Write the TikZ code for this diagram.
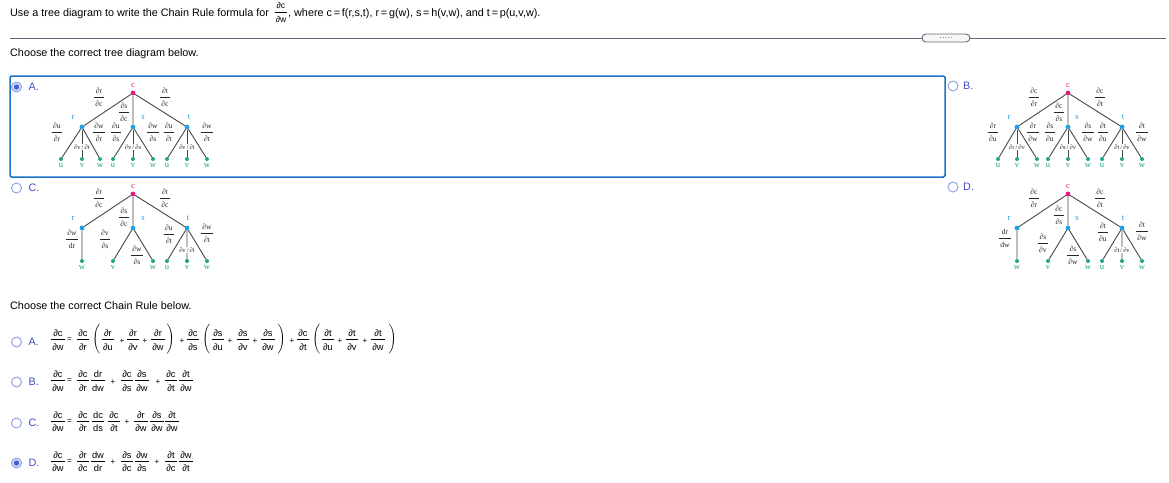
\documentclass[tikz,border=0pt]{standalone}
\usepackage{fontspec}
\setmainfont{Liberation Sans}
\newfontfamily\serf{Liberation Serif}
\definecolor{cmag}{HTML}{E5177F}
\definecolor{cblue}{HTML}{1E9FE6}
\definecolor{cleaf}{HTML}{1FA38A}
\definecolor{boxblue}{HTML}{1A72C9}
\definecolor{radiocol}{HTML}{8D9DE2}
\definecolor{selblue}{HTML}{4A5ECF}
\definecolor{optblue}{HTML}{3D4FC2}
\definecolor{rulegray}{HTML}{5F6B78}
\definecolor{edgegray}{HTML}{474747}
% tree edge fraction
\newcommand\ef[2]{$\vcenter{\offinterlineskip\halign{\hskip1.6pt\hfil##\hfil\hskip1.6pt\cr\vrule height5.6pt depth0pt width0pt#1\cr\noalign{\kern3.2pt\hrule height0.6pt\kern3.6pt}\vrule height5.6pt depth0pt width0pt#2\cr}}$}
% formula fraction
\newcommand\mf[2]{$\vcenter{\offinterlineskip\halign{\hskip1.5pt\hfil##\hfil\hskip1.5pt\cr\vrule height6.9pt depth0pt width0pt#1\cr\noalign{\kern2.2pt\hrule height0.6pt\kern3.6pt}\vrule height6.9pt depth0pt width0pt#2\cr}}$}
% header fraction
\newcommand\hf[2]{$\vcenter{\offinterlineskip\halign{\hskip1pt\hfil##\hfil\hskip1pt\cr\vrule height6.5pt depth0pt width0pt#1\cr\noalign{\kern3pt\hrule height0.6pt\kern3.6pt}\vrule height6.5pt depth0pt width0pt#2\cr}}$}
\newcommand\lpar{$\left(\vrule height14pt depth14pt width0pt\right.$}
\newcommand\rpar{$\left.\vrule height14pt depth14pt width0pt\right)$}
\tikzset{
  txt/.style={font=\fontsize{10.8}{13}\selectfont, inner sep=0pt, anchor=west},
  opt/.style={font=\fontsize{10.8}{13}\selectfont, text=optblue, inner sep=0pt, anchor=west},
  mfr/.style={font=\fontsize{9.3}{11}\selectfont, inner sep=0pt},
  sym/.style={font=\fontsize{8}{9}\selectfont, inner sep=0pt},
  par/.style={font=\fontsize{9}{10}\selectfont, inner sep=0pt},
  efr/.style={font=\serf\fontsize{7.6}{8}\selectfont, inner sep=0pt, text=black!85},
  inl/.style={font=\serf\fontsize{6.5}{7}\selectfont, inner sep=0.6pt, fill=white, text=black!85},
  edge/.style={draw=edgegray, line width=0.9pt},
  cdot/.style={circle, fill=cmag, inner sep=0pt, minimum size=4.8pt},
  mdot/.style={circle, fill=cblue, inner sep=0pt, minimum size=4.8pt},
  ldot/.style={circle, fill=cleaf, inner sep=0pt, minimum size=4pt},
  clab/.style={font=\serf\fontsize{8.6}{9}\selectfont, text=cmag, inner sep=0pt},
  mlab/.style={font=\serf\fontsize{8.6}{9}\selectfont, text=cblue, inner sep=0pt},
  llab/.style={font=\serf\fontsize{8.6}{9}\selectfont, text=cleaf, inner sep=0pt},
  radio/.style={circle, draw=radiocol, line width=0.9pt, minimum size=10pt, inner sep=0pt, fill=white},
  radiosel/.style={circle, draw=radiocol, line width=0.9pt, minimum size=10pt, inner sep=0pt, fill=radiocol!35},
  radiodot/.style={circle, fill=selblue, minimum size=5.4pt, inner sep=0pt},
}
\begin{document}
\begin{tikzpicture}[x=1pt,y=-1pt]
\useasboundingbox[fill=white] (0,0) rectangle (1169,482);
% header
\node[txt] (h1) at (10,14) {Use a tree diagram to write the Chain Rule formula for};
\node[inner sep=0pt, font=\fontsize{8.6}{9}\selectfont] (hfrac) at (281,12.5) {\hf{∂c}{∂w}};
\node[txt] (h2) at (288,14) {, where c\,=\,f(r,s,t), r\,=\,g(w), s\,=\,h(v,w), and t\,=\,p(u,v,w).};
\node[draw=rulegray, fill=gray!6, line width=0.9pt, rounded corners=4pt, minimum width=48pt, minimum height=8pt, inner sep=0pt, font=\fontsize{6}{6}\selectfont\bfseries, text=rulegray] (pill) at (946,38) {.\,.\,.\,.\,.};
\coordinate (rl) at (10,38);
\coordinate (rr) at (1166,38);
\draw[rulegray, line width=0.9pt] (rl) -- (pill.west) (pill.east) -- (rr);
\node[txt] (q1) at (10,54) {Choose the correct tree diagram below.};
\node[txt] (q2) at (10,306) {Choose the correct Chain Rule below.};
% option box A
\draw[boxblue, line width=1.5pt, rounded corners=1.5pt] (10,76) rectangle (945,177);
\node[radiosel] (rA) at (16.5,87) {}; \node[radiodot] (rAd) at (rA) {};
\node[opt] (lA) at (28.5,87) {A.};
\node[radio] (rB) at (953,86) {};
\node[opt] (lB) at (963,86) {B.};
\node[radio] (rC) at (16.5,188) {};
\node[opt] (lC) at (28.5,188) {C.};
\node[radio] (rD) at (953,187) {};
\node[opt] (lD) at (963,187) {D.};

% ---------- Tree A ----------
\node[cdot] (Ac) at (133,93) {};
\node[clab] (Acl) at (133,85.5) {c};
\node[mdot] (Ar) at (82,127) {};
\node[mdot] (As) at (133,127) {};
\node[mdot] (At) at (187,127) {};
\node[mlab] (Arl) at (73,117.5) {r};
\node[mlab] (Asl) at (143,117.5) {s};
\node[mlab] (Atl) at (189,117.5) {t};
\foreach \n/\x/\l in {ru/61/u, rv/82/v, rw/100/w, su/113/u, sv/133/v, sw/153/w, tu/167/u, tv/187/v, tw/207/w}{
  \node[ldot] (A\n) at (\x,159) {};
  \node[llab] (A\n-l) at (\x,166) {\l};}
\draw[edge] (Ac) -- (Ar) (Ac) -- (As) (Ac) -- (At);
\foreach \m in {r,s,t}{\foreach \k in {u,v,w}{\draw[edge] (A\m) -- (A\m\k);}}
\node[efr] (Ae1) at (99,97) {\ef{∂r}{∂c}};
\node[efr] (Ae2) at (124,112) {\ef{∂s}{∂c}};
\node[efr] (Ae3) at (165,97) {\ef{∂t}{∂c}};
\node[efr] (Ae4) at (57,132) {\ef{∂u}{∂r}};
\node[efr] (Ae5) at (99,132) {\ef{∂w}{∂r}};
\node[efr] (Ae6) at (116,132) {\ef{∂u}{∂s}};
\node[efr] (Ae7) at (153,132) {\ef{∂w}{∂s}};
\node[efr] (Ae8) at (169,132) {\ef{∂u}{∂t}};
\node[efr] (Ae9) at (207,132) {\ef{∂w}{∂t}};
\node[inl] (Ai1) at (82,147) {∂v\,/\,∂r};
\node[inl] (Ai2) at (133,147) {∂v\,/\,∂s};
\node[inl] (Ai3) at (187,147) {∂v\,/\,∂t};

% ---------- Tree B ----------
\node[cdot] (Bc) at (1068,93) {};
\node[clab] (Bcl) at (1068,85.5) {c};
\node[mdot] (Br) at (1017,127) {};
\node[mdot] (Bs) at (1068,127) {};
\node[mdot] (Bt) at (1122,127) {};
\node[mlab] (Brl) at (1009,117.5) {r};
\node[mlab] (Bsl) at (1077,117.5) {s};
\node[mlab] (Btl) at (1123,117.5) {t};
\foreach \n/\x/\l in {ru/998/u, rv/1017/v, rw/1037/w, su/1048/u, sv/1068/v, sw/1088/w, tu/1102/u, tv/1122/v, tw/1142/w}{
  \node[ldot] (B\n) at (\x,159) {};
  \node[llab] (B\n-l) at (\x,166) {\l};}
\draw[edge] (Bc) -- (Br) (Bc) -- (Bs) (Bc) -- (Bt);
\foreach \m in {r,s,t}{\foreach \k in {u,v,w}{\draw[edge] (B\m) -- (B\m\k);}}
\node[efr] (Be1) at (1034,97) {\ef{∂c}{∂r}};
\node[efr] (Be2) at (1059,112) {\ef{∂c}{∂s}};
\node[efr] (Be3) at (1100,97) {\ef{∂c}{∂t}};
\node[efr] (Be4) at (993,132) {\ef{∂r}{∂u}};
\node[efr] (Be5) at (1033,132) {\ef{∂r}{∂w}};
\node[efr] (Be6) at (1050,132) {\ef{∂s}{∂u}};
\node[efr] (Be7) at (1088,132) {\ef{∂s}{∂w}};
\node[efr] (Be8) at (1103,132) {\ef{∂t}{∂u}};
\node[efr] (Be9) at (1142,132) {\ef{∂t}{∂w}};
\node[inl] (Bi1) at (1017,147) {∂r\,/\,∂v};
\node[inl] (Bi2) at (1068,147) {∂s\,/\,∂v};
\node[inl] (Bi3) at (1122,147) {∂t\,/\,∂v};

% ---------- Tree C ----------
\node[cdot] (Cc) at (133,194) {};
\node[clab] (Ccl) at (133,186.5) {c};
\node[mdot] (Cr) at (82,228) {};
\node[mdot] (Cs) at (133,228) {};
\node[mdot] (Ct) at (187,228) {};
\node[mlab] (Crl) at (73,218.5) {r};
\node[mlab] (Csl) at (143,218.5) {s};
\node[mlab] (Ctl) at (188,218.5) {t};
\foreach \n/\x/\l in {rw/82/w, sv/113/v, sw/153/w, tu/167/u, tv/187/v, tw/207/w}{
  \node[ldot] (C\n) at (\x,261) {};
  \node[llab] (C\n-l) at (\x,268) {\l};}
\draw[edge] (Cc) -- (Cr) (Cc) -- (Cs) (Cc) -- (Ct);
\draw[edge] (Cr) -- (Crw) (Cs) -- (Csv) (Cs) -- (Csw) (Ct) -- (Ctu) (Ct) -- (Ctv) (Ct) -- (Ctw);
\node[efr] (Ce1) at (99,198) {\ef{∂r}{∂c}};
\node[efr] (Ce2) at (124,217) {\ef{∂s}{∂c}};
\node[efr] (Ce3) at (165,198) {\ef{∂t}{∂c}};
\node[efr] (Ce4) at (72,239) {\ef{∂w}{dr}};
\node[efr] (Ce5) at (105,239) {\ef{∂v}{∂s}};
\node[efr] (Ce6) at (137,255) {\ef{∂w}{∂s}};
\node[efr] (Ce7) at (169,234) {\ef{∂u}{∂t}};
\node[efr] (Ce8) at (207,233) {\ef{∂w}{∂t}};
\node[inl] (Ci1) at (187,250) {∂v\,/\,∂t};

% ---------- Tree D ----------
\node[cdot] (Dc) at (1068,194) {};
\node[clab] (Dcl) at (1068,186.5) {c};
\node[mdot] (Dr) at (1017,228) {};
\node[mdot] (Ds) at (1068,228) {};
\node[mdot] (Dt) at (1122,228) {};
\node[mlab] (Drl) at (1009,218.5) {r};
\node[mlab] (Dsl) at (1077,218.5) {s};
\node[mlab] (Dtl) at (1123,218.5) {t};
\foreach \n/\x/\l in {rw/1017/w, sv/1048/v, sw/1088/w, tu/1102/u, tv/1122/v, tw/1142/w}{
  \node[ldot] (D\n) at (\x,261) {};
  \node[llab] (D\n-l) at (\x,268) {\l};}
\draw[edge] (Dc) -- (Dr) (Dc) -- (Ds) (Dc) -- (Dt);
\draw[edge] (Dr) -- (Drw) (Ds) -- (Dsv) (Ds) -- (Dsw) (Dt) -- (Dtu) (Dt) -- (Dtv) (Dt) -- (Dtw);
\node[efr] (De1) at (1034,198) {\ef{∂c}{∂r}};
\node[efr] (De2) at (1059,215) {\ef{∂c}{∂s}};
\node[efr] (De3) at (1100,198) {\ef{∂c}{∂t}};
\node[efr] (De4) at (1005,238) {\ef{dr}{dw}};
\node[efr] (De5) at (1043,243) {\ef{∂s}{∂v}};
\node[efr] (De6) at (1073,255) {\ef{∂s}{∂w}};
\node[efr] (De7) at (1103,232) {\ef{∂t}{∂u}};
\node[efr] (De8) at (1142,231) {\ef{∂t}{∂w}};
\node[inl] (Di1) at (1122,250) {∂t\,/\,∂v};

% ---------- Chain rule options ----------
\node[radio] (fA) at (16.5,342) {};
\node[opt] (fAl) at (28.5,342) {A.};
\node[radio] (fB) at (16.5,382) {};
\node[opt] (fBl) at (28.5,382) {B.};
\node[radio] (fC) at (16.5,423) {};
\node[opt] (fCl) at (28.5,423) {C.};
\node[radiosel] (fD) at (16.5,463) {}; \node[radiodot] (fDd) at (fD) {};
\node[opt] (fDl) at (28.5,463) {D.};

% row A
\foreach \x/\n/\d [count=\i] in {58/∂c/∂w, 83/∂c/∂r, 108/∂r/∂u, 133/∂r/∂v, 158/∂r/∂w, 193/∂c/∂s, 218/∂s/∂u, 243/∂s/∂v, 268/∂s/∂w, 303/∂c/∂t, 328/∂t/∂u, 352/∂t/∂v, 378/∂t/∂w}
  \node[mfr] (ra\i) at (\x,340) {\mf{\n}{\d}};
\foreach \x [count=\i] in {122,145,182,230,255,292,340,365}
  \node[sym] (rap\i) at (\x,341) {+};
\node[sym] (raeq) at (69.5,340) {=};
\foreach \x [count=\i] in {97,207,317} \node[par] (ral\i) at (\x,340) {\lpar};
\foreach \x [count=\i] in {170,281,392} \node[par] (rar\i) at (\x,340) {\rpar};

% row B
\foreach \x/\n/\d [count=\i] in {58/∂c/∂w, 83/∂c/∂r, 98/dr/dw, 127/∂c/∂s, 142/∂s/∂w, 171/∂c/∂t, 186/∂t/∂w}
  \node[mfr] (rb\i) at (\x,381) {\mf{\n}{\d}};
\foreach \x [count=\i] in {113,158}
  \node[sym] (rbp\i) at (\x,382) {+};
\node[sym] (rbeq) at (69.5,381) {=};

% row C
\foreach \x/\n/\d [count=\i] in {58/∂c/∂w, 83/∂c/∂r, 98/dc/ds, 114/∂c/∂t, 141/∂r/∂w, 157/∂s/∂w, 172/∂t/∂w}
  \node[mfr] (rc\i) at (\x,421.5) {\mf{\n}{\d}};
\node[sym] (rcp1) at (127,422.5) {+};
\node[sym] (rceq) at (69.5,421.5) {=};

% row D
\foreach \x/\n/\d [count=\i] in {58/∂c/∂w, 83/∂r/∂c, 98/dw/dr, 127/∂s/∂c, 142/∂w/∂s, 171/∂t/∂c, 186/∂w/∂t}
  \node[mfr] (rd\i) at (\x,461.5) {\mf{\n}{\d}};
\foreach \x [count=\i] in {113,157}
  \node[sym] (rdp\i) at (\x,462.5) {+};
\node[sym] (rdeq) at (69.5,461.5) {=};
\end{tikzpicture}
\end{document}
